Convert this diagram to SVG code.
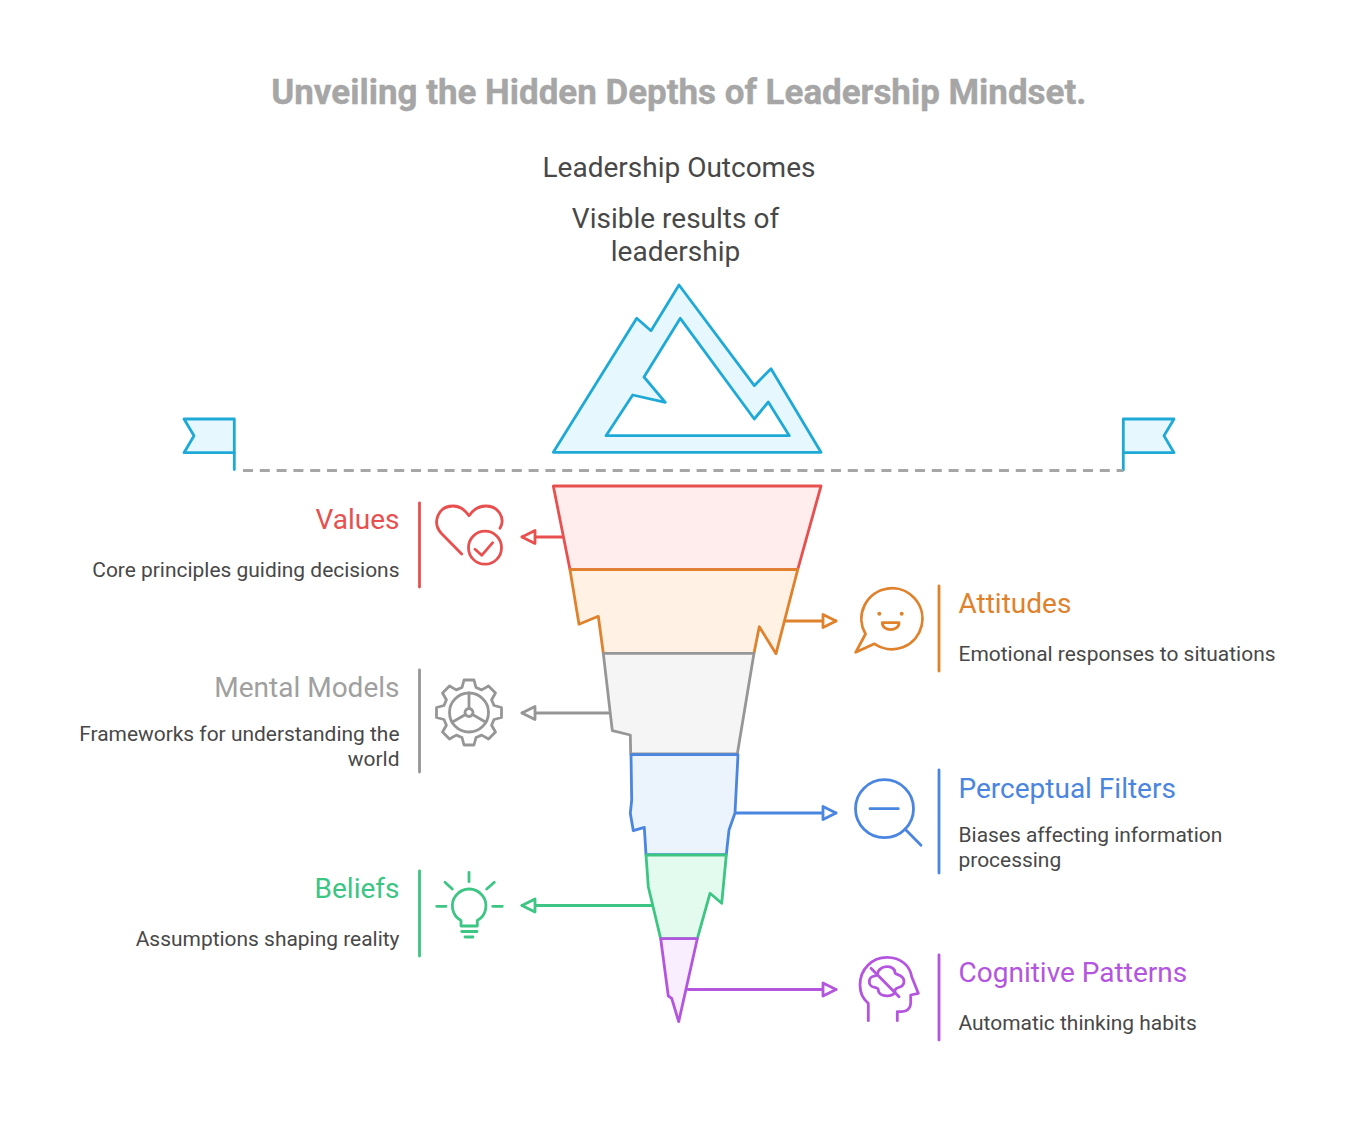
<svg xmlns="http://www.w3.org/2000/svg" width="1358" height="1140" viewBox="0 0 1358 1140">
<style>
text{font-family:Roboto,"Liberation Sans",sans-serif}
.title{font-size:34.95px;font-weight:700;fill:#a6a6a6;text-anchor:middle}
.top{font-size:28px;fill:#484848;text-anchor:middle}
.h{font-size:28px}
.d{font-size:20.95px;fill:#484848}
.e{text-anchor:end}
.ln{fill:none;stroke-width:2.8;stroke-linecap:round;stroke-linejoin:round}
.sh{stroke-width:2.8;stroke-linejoin:round;stroke-linecap:round}
.red{stroke:#e8504f}.org{stroke:#e0812c}.gry{stroke:#969696}.blu{stroke:#4a85e0}.grn{stroke:#3cc583}.pur{stroke:#b455e0}.cya{stroke:#1fa9d6}
.tred{fill:#e8504f}.torg{fill:#e0812c}.tgry{fill:#a0a0a0}.tblu{fill:#4a85e0}.tgrn{fill:#3cc583}.tpur{fill:#b455e0}
</style>
<defs>
<marker id="ared" markerUnits="userSpaceOnUse" markerWidth="20" markerHeight="20" refX="15" refY="10" orient="auto"><path d="M2 3.500L15 10L2 16.500Z" fill="#fff" stroke="#e8504f" stroke-width="2.800" stroke-linejoin="round"/></marker>
<marker id="aorg" markerUnits="userSpaceOnUse" markerWidth="20" markerHeight="20" refX="15" refY="10" orient="auto"><path d="M2 3.500L15 10L2 16.500Z" fill="#fff" stroke="#e0812c" stroke-width="2.800" stroke-linejoin="round"/></marker>
<marker id="agry" markerUnits="userSpaceOnUse" markerWidth="20" markerHeight="20" refX="15" refY="10" orient="auto"><path d="M2 3.500L15 10L2 16.500Z" fill="#fff" stroke="#969696" stroke-width="2.800" stroke-linejoin="round"/></marker>
<marker id="ablu" markerUnits="userSpaceOnUse" markerWidth="20" markerHeight="20" refX="15" refY="10" orient="auto"><path d="M2 3.500L15 10L2 16.500Z" fill="#fff" stroke="#4a85e0" stroke-width="2.800" stroke-linejoin="round"/></marker>
<marker id="agrn" markerUnits="userSpaceOnUse" markerWidth="20" markerHeight="20" refX="15" refY="10" orient="auto"><path d="M2 3.500L15 10L2 16.500Z" fill="#fff" stroke="#3cc583" stroke-width="2.800" stroke-linejoin="round"/></marker>
<marker id="apur" markerUnits="userSpaceOnUse" markerWidth="20" markerHeight="20" refX="15" refY="10" orient="auto"><path d="M2 3.500L15 10L2 16.500Z" fill="#fff" stroke="#b455e0" stroke-width="2.800" stroke-linejoin="round"/></marker>
</defs>
<rect width="1358" height="1140" fill="#fff"/>
<text class="title" x="678.800" y="104" stroke="#a6a6a6" stroke-width=".4">Unveiling the Hidden Depths of Leadership Mindset.</text>

<g id="outcomes">
<text class="top" x="679" y="177">Leadership Outcomes</text>
<text class="top" x="675.500" y="228">Visible results of</text>
<text class="top" x="675.500" y="261">leadership</text>
</g>

<g id="iceberg-tip">
<path class="sh cya" fill="#e6f8fe" fill-rule="evenodd" d="M679 285L754.300 385.700L771 368.700L821 452.300H553.300L636.700 318.300L651 330.700ZM680.300 318.300L644 377L665.300 402.300L632.700 395L606 435.700H789.300L768.300 402L754.300 419Z"/>
</g>

<g id="waterline">
<path class="sh cya" fill="#e6f8fe" d="M184 419H234.300V452.700H184L194 435.700Z"/>
<path class="sh cya" fill="#e6f8fe" d="M1123.300 419H1174L1164 435.700L1174 452.700H1123.300Z"/>
<path class="ln cya" d="M234.300 452.700V469.500M1123.300 452.700V470"/>
<path d="M243 470.500H1123" fill="none" stroke="#a6a6a6" stroke-width="2.800" stroke-dasharray="10 6.800"/>
</g>

<g id="connectors">
<path class="ln red" d="M565 537H522" marker-end="url(#ared)"/>
<path class="ln org" d="M785 621H836" marker-end="url(#aorg)"/>
<path class="ln gry" d="M611 713H522" marker-end="url(#agry)"/>
<path class="ln blu" d="M736 813H836" marker-end="url(#ablu)"/>
<path class="ln grn" d="M653 905.500H522" marker-end="url(#agrn)"/>
<path class="ln pur" d="M688 989.500H836" marker-end="url(#apur)"/>
</g>

<g id="layer-values">
<path class="sh red" fill="#ffecec" d="M553.300 486H821L797.700 569.700H570Z"/>
<path class="ln red" d="M419.500 503V587"/>
<text class="h tred e" x="399.500" y="529">Values</text>
<text class="d e" x="399.500" y="577">Core principles guiding decisions</text>
<g class="ln red"><path d="M461.700 554L441.500 533.500C431 522 439 506 453 506C460 506 465 510 469 515.700C473 510 479 506 486 506C498 506 506 518 500 528.300"/><circle cx="485" cy="547.700" r="16.500"/><path d="M475 549.300L481.700 555.300L492.700 542.700"/></g>
</g>

<g id="layer-attitudes">
<path class="sh org" fill="#fff1e4" d="M570 569.700H797.700L776 653.700L759.300 626.700L754 653.300H603.300L598.300 616.300L579 624.300Z"/>
<path class="ln org" d="M939 586V671"/>
<text class="h torg" x="958.500" y="613">Attitudes</text>
<text class="d" x="958.500" y="661">Emotional responses to situations</text>
<g class="ln org"><path d="M865.500 634L855.700 652.300L874.500 643.800A30.500 30.500 0 1 0 865.500 634Z"/><path d="M882.300 622.700H899C899 632 882.300 632 882.300 622.700Z"/></g>
<circle cx="879.300" cy="613.700" r="2" class="torg"/><circle cx="901.700" cy="613.700" r="2" class="torg"/>
</g>

<g id="layer-mental-models">
<path class="sh gry" fill="#f5f5f5" d="M603.300 653.300H754L737.300 754H630.700L630.300 735L612.300 730.700Z"/>
<path class="ln gry" d="M419.500 670V772"/>
<text class="h tgry e" x="399.500" y="697">Mental Models</text>
<text class="d e" x="399.500" y="741">Frameworks for understanding the</text>
<text class="d e" x="399.500" y="766">world</text>
<g class="ln gry" transform="translate(469 712.500)"><path d="M-7 -25L-5 -32.500H5L7 -25L12.700 -22.600L19.500 -26.500L26.500 -19.500L22.600 -12.700L25 -7L32.500 -5V5L25 7L22.600 12.700L26.500 19.500L19.500 26.500L12.700 22.600L7 25L5 32.500H-5L-7 25L-12.700 22.600L-19.500 26.500L-26.500 19.500L-22.600 12.700L-25 7L-32.500 5V-5L-25 -7L-22.600 -12.700L-26.500 -19.500L-19.500 -26.500L-12.700 -22.600Z"/><circle r="19.500"/><circle r="4"/><path d="M0 -4V-19.500M3.500 2L16.900 9.800M-3.500 2L-16.900 9.800"/></g>
</g>

<g id="layer-perceptual-filters">
<path class="sh blu" fill="#ebf3fd" d="M631 754.700H738L735 813L729 830L726.300 854.700H646L644.300 827.300L633.300 830.700L630.300 813.300L631.700 800Z"/>
<path class="ln blu" d="M939 770V873"/>
<text class="h tblu" x="958.500" y="798">Perceptual Filters</text>
<text class="d" x="958.500" y="842">Biases affecting information</text>
<text class="d" x="958.500" y="867">processing</text>
<g class="ln blu"><circle cx="884.500" cy="808.700" r="29"/><path d="M870 808.700H898.300M905 829L921 845.300"/></g>
</g>

<g id="layer-beliefs">
<path class="sh grn" fill="#e3fbef" d="M646 855H726.300L721.700 903.300L710 893.300L697.300 938.700H660.700L648.300 886.700Z"/>
<path class="ln grn" d="M419.500 871V956"/>
<text class="h tgrn e" x="399.500" y="898">Beliefs</text>
<text class="d e" x="399.500" y="946">Assumptions shaping reality</text>
<g class="ln grn"><path d="M461 926V920.500A16.800 16.800 0 1 1 477.300 920.500V926ZM461.700 931.500H477M465 937H473M469 872.500V881.700M445 882.300L452.300 889M494.300 882.300L486.700 889M436.700 906.300H446M492.700 906.300H502.300"/></g>
</g>

<g id="layer-cognitive-patterns">
<path class="sh pur" fill="#f8eefe" d="M660.700 938.700H697.300L678.700 1021.700L671.700 998.300L668.300 996Z"/>
<path class="ln pur" d="M939 955V1040"/>
<text class="h tpur" x="958.500" y="982">Cognitive Patterns</text>
<text class="d" x="958.500" y="1030">Automatic thinking habits</text>
<g class="ln pur"><path d="M868.300 1020.700V1003.300C863 999 860 992 860 985C860 969 872 957.300 887 957.300C901 957.300 910 966 911.700 976.700L918.300 993.300L910.700 995V1003C910.700 1008 907 1011.700 902 1011.700H897.300V1020.700"/><path d="M877.700 974C877.700 965 895 964 895 972.700C895 975.300 904.300 974 904 981.700C903.700 989.300 895 986 895 990.700C895 998.300 878.300 997.300 878.300 990C878.300 986 869.300 989.300 869.300 981.700C869.300 974 877.700 977.300 877.700 974Z"/><path d="M871 968.300L899 996.700"/></g>
</g>
</svg>
